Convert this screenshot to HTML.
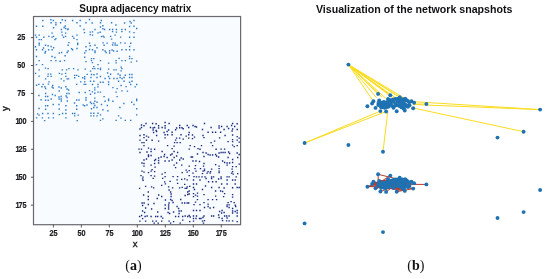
<!DOCTYPE html>
<html><head><meta charset="utf-8"><title>Figure</title>
<style>html,body{margin:0;padding:0;background:#fff;}body{width:550px;height:279px;position:relative;overflow:hidden}</style>
</head><body>
<svg width="550" height="279" viewBox="0 0 550 279" style="position:absolute;left:0;top:0">
<rect x="33.5" y="16.5" width="207.1" height="208.2" fill="#f8fbff"/>
<path fill="#2f7bc4" d="M42.1 19.8h1.4v1.4h-1.4zM50.2 19.0h1.4v1.4h-1.4zM52.7 19.8h1.4v1.4h-1.4zM61.6 19.0h1.4v1.4h-1.4zM64.7 19.8h1.4v1.4h-1.4zM71.9 19.8h1.4v1.4h-1.4zM79.5 19.8h1.4v1.4h-1.4zM50.4 22.1h1.4v1.4h-1.4zM55.2 22.1h1.4v1.4h-1.4zM59.9 22.1h1.4v1.4h-1.4zM76.3 22.1h1.4v1.4h-1.4zM85.3 22.1h1.4v1.4h-1.4zM55.2 24.1h1.4v1.4h-1.4zM35.8 25.6h1.4v1.4h-1.4zM42.1 25.6h1.4v1.4h-1.4zM52.9 27.1h1.4v1.4h-1.4zM64.6 25.3h1.4v1.4h-1.4zM63.4 26.8h1.4v1.4h-1.4zM64.9 27.8h1.4v1.4h-1.4zM67.4 28.3h1.4v1.4h-1.4zM79.5 25.3h1.4v1.4h-1.4zM60.7 28.8h1.4v1.4h-1.4zM66.9 28.8h1.4v1.4h-1.4zM83.3 28.8h1.4v1.4h-1.4zM61.2 31.4h1.4v1.4h-1.4zM51.4 32.4h1.4v1.4h-1.4zM64.9 32.4h1.4v1.4h-1.4zM83.8 31.9h1.4v1.4h-1.4zM34.8 34.4h1.4v1.4h-1.4zM38.5 34.4h1.4v1.4h-1.4zM61.6 34.4h1.4v1.4h-1.4zM76.3 34.4h1.4v1.4h-1.4zM35.8 36.6h1.4v1.4h-1.4zM43.1 36.6h1.4v1.4h-1.4zM48.2 35.7h1.4v1.4h-1.4zM51.4 36.4h1.4v1.4h-1.4zM52.9 35.7h1.4v1.4h-1.4zM62.9 36.6h1.4v1.4h-1.4zM64.9 35.7h1.4v1.4h-1.4zM71.9 35.7h1.4v1.4h-1.4zM73.2 37.6h1.4v1.4h-1.4zM38.5 38.9h1.4v1.4h-1.4zM40.6 38.9h1.4v1.4h-1.4zM54.2 38.9h1.4v1.4h-1.4zM55.2 37.9h1.4v1.4h-1.4zM76.3 38.9h1.4v1.4h-1.4zM38.5 42.6h1.4v1.4h-1.4zM68.2 41.9h1.4v1.4h-1.4zM77.0 42.6h1.4v1.4h-1.4zM88.8 18.8h1.4v1.4h-1.4zM100.6 19.8h1.4v1.4h-1.4zM133.3 19.8h1.4v1.4h-1.4zM129.3 20.8h1.4v1.4h-1.4zM130.5 22.3h1.4v1.4h-1.4zM91.5 22.3h1.4v1.4h-1.4zM99.8 22.1h1.4v1.4h-1.4zM110.9 22.1h1.4v1.4h-1.4zM123.9 22.3h1.4v1.4h-1.4zM115.2 24.3h1.4v1.4h-1.4zM102.2 25.1h1.4v1.4h-1.4zM99.8 26.3h1.4v1.4h-1.4zM128.9 25.8h1.4v1.4h-1.4zM133.3 25.6h1.4v1.4h-1.4zM136.0 27.8h1.4v1.4h-1.4zM102.2 28.1h1.4v1.4h-1.4zM103.9 28.8h1.4v1.4h-1.4zM94.3 28.8h1.4v1.4h-1.4zM108.9 28.8h1.4v1.4h-1.4zM111.9 28.8h1.4v1.4h-1.4zM115.7 28.8h1.4v1.4h-1.4zM121.2 28.8h1.4v1.4h-1.4zM124.6 28.8h1.4v1.4h-1.4zM111.9 30.9h1.4v1.4h-1.4zM115.7 31.4h1.4v1.4h-1.4zM121.2 30.9h1.4v1.4h-1.4zM128.9 31.2h1.4v1.4h-1.4zM133.3 31.9h1.4v1.4h-1.4zM89.5 31.4h1.4v1.4h-1.4zM91.8 31.2h1.4v1.4h-1.4zM97.3 32.2h1.4v1.4h-1.4zM99.5 31.6h1.4v1.4h-1.4zM89.5 33.9h1.4v1.4h-1.4zM91.8 34.4h1.4v1.4h-1.4zM114.4 34.4h1.4v1.4h-1.4zM100.8 35.9h1.4v1.4h-1.4zM102.4 35.4h1.4v1.4h-1.4zM103.4 36.4h1.4v1.4h-1.4zM109.9 35.7h1.4v1.4h-1.4zM119.9 36.4h1.4v1.4h-1.4zM128.9 36.6h1.4v1.4h-1.4zM133.3 36.6h1.4v1.4h-1.4zM110.9 38.4h1.4v1.4h-1.4zM102.4 42.2h1.4v1.4h-1.4zM106.4 42.4h1.4v1.4h-1.4zM112.4 42.2h1.4v1.4h-1.4zM114.4 42.4h1.4v1.4h-1.4zM119.9 42.2h1.4v1.4h-1.4zM124.4 42.4h1.4v1.4h-1.4zM130.0 42.6h1.4v1.4h-1.4zM88.8 42.6h1.4v1.4h-1.4zM38.5 44.3h1.4v1.4h-1.4zM44.8 44.5h1.4v1.4h-1.4zM47.4 45.1h1.4v1.4h-1.4zM50.4 45.8h1.4v1.4h-1.4zM52.9 47.1h1.4v1.4h-1.4zM67.4 44.5h1.4v1.4h-1.4zM77.0 43.8h1.4v1.4h-1.4zM85.3 46.1h1.4v1.4h-1.4zM34.8 46.1h1.4v1.4h-1.4zM35.8 49.1h1.4v1.4h-1.4zM42.8 47.3h1.4v1.4h-1.4zM41.8 49.1h1.4v1.4h-1.4zM44.8 50.8h1.4v1.4h-1.4zM44.3 52.3h1.4v1.4h-1.4zM47.9 49.1h1.4v1.4h-1.4zM51.4 49.1h1.4v1.4h-1.4zM70.9 48.1h1.4v1.4h-1.4zM71.9 49.1h1.4v1.4h-1.4zM76.3 47.8h1.4v1.4h-1.4zM67.4 50.3h1.4v1.4h-1.4zM66.4 51.8h1.4v1.4h-1.4zM60.9 51.8h1.4v1.4h-1.4zM58.6 52.3h1.4v1.4h-1.4zM85.3 50.1h1.4v1.4h-1.4zM84.0 52.3h1.4v1.4h-1.4zM64.4 55.1h1.4v1.4h-1.4zM35.8 55.8h1.4v1.4h-1.4zM51.4 55.8h1.4v1.4h-1.4zM54.2 56.8h1.4v1.4h-1.4zM84.0 56.5h1.4v1.4h-1.4zM38.5 59.9h1.4v1.4h-1.4zM50.4 59.9h1.4v1.4h-1.4zM55.2 59.9h1.4v1.4h-1.4zM59.4 60.6h1.4v1.4h-1.4zM63.9 59.9h1.4v1.4h-1.4zM85.3 60.9h1.4v1.4h-1.4zM35.8 63.9h1.4v1.4h-1.4zM41.8 63.9h1.4v1.4h-1.4zM44.8 67.4h1.4v1.4h-1.4zM47.4 67.9h1.4v1.4h-1.4zM38.5 69.2h1.4v1.4h-1.4zM61.6 69.2h1.4v1.4h-1.4zM65.9 69.2h1.4v1.4h-1.4zM68.2 67.9h1.4v1.4h-1.4zM72.9 67.9h1.4v1.4h-1.4zM77.3 69.2h1.4v1.4h-1.4zM84.5 68.4h1.4v1.4h-1.4zM89.5 45.1h1.4v1.4h-1.4zM94.3 44.5h1.4v1.4h-1.4zM103.4 44.5h1.4v1.4h-1.4zM111.9 44.3h1.4v1.4h-1.4zM114.4 44.3h1.4v1.4h-1.4zM116.4 44.5h1.4v1.4h-1.4zM128.9 45.8h1.4v1.4h-1.4zM96.3 47.1h1.4v1.4h-1.4zM88.8 48.8h1.4v1.4h-1.4zM91.8 49.1h1.4v1.4h-1.4zM94.3 50.3h1.4v1.4h-1.4zM94.3 51.8h1.4v1.4h-1.4zM102.2 49.1h1.4v1.4h-1.4zM104.4 50.3h1.4v1.4h-1.4zM105.4 51.8h1.4v1.4h-1.4zM108.9 50.1h1.4v1.4h-1.4zM108.9 52.3h1.4v1.4h-1.4zM111.4 49.3h1.4v1.4h-1.4zM112.9 50.3h1.4v1.4h-1.4zM116.4 50.5h1.4v1.4h-1.4zM121.2 49.1h1.4v1.4h-1.4zM125.4 49.1h1.4v1.4h-1.4zM128.9 49.1h1.4v1.4h-1.4zM133.3 49.1h1.4v1.4h-1.4zM90.8 57.9h1.4v1.4h-1.4zM93.1 57.9h1.4v1.4h-1.4zM118.4 57.7h1.4v1.4h-1.4zM128.9 55.8h1.4v1.4h-1.4zM128.9 57.9h1.4v1.4h-1.4zM131.3 57.9h1.4v1.4h-1.4zM90.8 59.9h1.4v1.4h-1.4zM99.8 59.9h1.4v1.4h-1.4zM115.4 59.9h1.4v1.4h-1.4zM121.2 59.9h1.4v1.4h-1.4zM124.6 59.9h1.4v1.4h-1.4zM136.0 60.4h1.4v1.4h-1.4zM130.5 61.4h1.4v1.4h-1.4zM91.8 61.9h1.4v1.4h-1.4zM107.9 62.4h1.4v1.4h-1.4zM115.4 62.2h1.4v1.4h-1.4zM97.3 63.9h1.4v1.4h-1.4zM93.1 65.9h1.4v1.4h-1.4zM92.1 67.9h1.4v1.4h-1.4zM94.1 67.9h1.4v1.4h-1.4zM97.3 67.9h1.4v1.4h-1.4zM99.8 67.4h1.4v1.4h-1.4zM99.8 68.9h1.4v1.4h-1.4zM107.9 68.4h1.4v1.4h-1.4zM113.2 69.2h1.4v1.4h-1.4zM115.4 69.2h1.4v1.4h-1.4zM120.4 66.4h1.4v1.4h-1.4zM121.2 67.9h1.4v1.4h-1.4zM120.4 70.2h1.4v1.4h-1.4zM89.8 70.4h1.4v1.4h-1.4zM90.8 73.8h1.4v1.4h-1.4zM93.3 74.1h1.4v1.4h-1.4zM96.3 73.3h1.4v1.4h-1.4zM106.9 72.3h1.4v1.4h-1.4zM109.9 73.5h1.4v1.4h-1.4zM117.4 73.3h1.4v1.4h-1.4zM119.4 74.5h1.4v1.4h-1.4zM124.6 74.5h1.4v1.4h-1.4zM128.9 73.8h1.4v1.4h-1.4zM131.3 73.8h1.4v1.4h-1.4zM90.3 76.8h1.4v1.4h-1.4zM96.3 76.8h1.4v1.4h-1.4zM99.8 75.8h1.4v1.4h-1.4zM107.9 75.8h1.4v1.4h-1.4zM104.4 77.8h1.4v1.4h-1.4zM108.9 77.8h1.4v1.4h-1.4zM113.2 77.8h1.4v1.4h-1.4zM116.4 77.8h1.4v1.4h-1.4zM119.4 76.8h1.4v1.4h-1.4zM121.4 77.8h1.4v1.4h-1.4zM123.4 76.8h1.4v1.4h-1.4zM128.9 76.8h1.4v1.4h-1.4zM131.3 76.8h1.4v1.4h-1.4zM89.8 80.5h1.4v1.4h-1.4zM93.1 80.5h1.4v1.4h-1.4zM99.8 81.5h1.4v1.4h-1.4zM102.4 81.5h1.4v1.4h-1.4zM107.9 81.3h1.4v1.4h-1.4zM107.9 83.8h1.4v1.4h-1.4zM117.9 80.5h1.4v1.4h-1.4zM123.4 80.5h1.4v1.4h-1.4zM128.9 81.5h1.4v1.4h-1.4zM131.3 80.5h1.4v1.4h-1.4zM91.8 83.8h1.4v1.4h-1.4zM97.3 83.8h1.4v1.4h-1.4zM97.3 86.2h1.4v1.4h-1.4zM120.4 84.8h1.4v1.4h-1.4zM125.4 85.9h1.4v1.4h-1.4zM130.0 83.8h1.4v1.4h-1.4zM136.0 83.8h1.4v1.4h-1.4zM134.5 86.2h1.4v1.4h-1.4zM112.2 86.9h1.4v1.4h-1.4zM116.4 87.9h1.4v1.4h-1.4zM94.1 87.2h1.4v1.4h-1.4zM94.1 89.2h1.4v1.4h-1.4zM88.8 89.9h1.4v1.4h-1.4zM91.8 91.2h1.4v1.4h-1.4zM94.1 92.6h1.4v1.4h-1.4zM97.3 91.4h1.4v1.4h-1.4zM99.8 91.4h1.4v1.4h-1.4zM115.4 91.4h1.4v1.4h-1.4zM121.2 90.2h1.4v1.4h-1.4zM126.7 90.4h1.4v1.4h-1.4zM89.8 93.6h1.4v1.4h-1.4zM103.4 95.9h1.4v1.4h-1.4zM116.4 95.9h1.4v1.4h-1.4zM94.1 97.4h1.4v1.4h-1.4zM107.9 98.6h1.4v1.4h-1.4zM136.0 98.6h1.4v1.4h-1.4zM89.8 101.5h1.4v1.4h-1.4zM90.8 102.8h1.4v1.4h-1.4zM94.1 100.5h1.4v1.4h-1.4zM93.1 102.8h1.4v1.4h-1.4zM96.3 101.5h1.4v1.4h-1.4zM94.1 104.8h1.4v1.4h-1.4zM104.4 100.5h1.4v1.4h-1.4zM107.9 99.8h1.4v1.4h-1.4zM112.2 100.5h1.4v1.4h-1.4zM100.8 103.8h1.4v1.4h-1.4zM106.7 104.8h1.4v1.4h-1.4zM123.2 102.8h1.4v1.4h-1.4zM131.0 101.5h1.4v1.4h-1.4zM133.3 103.8h1.4v1.4h-1.4zM136.0 99.8h1.4v1.4h-1.4zM90.8 108.1h1.4v1.4h-1.4zM93.1 106.8h1.4v1.4h-1.4zM96.3 106.8h1.4v1.4h-1.4zM119.2 106.8h1.4v1.4h-1.4zM136.0 108.1h1.4v1.4h-1.4zM102.2 109.1h1.4v1.4h-1.4zM107.2 110.1h1.4v1.4h-1.4zM90.3 112.5h1.4v1.4h-1.4zM93.1 112.5h1.4v1.4h-1.4zM97.3 112.5h1.4v1.4h-1.4zM90.3 115.2h1.4v1.4h-1.4zM93.1 115.2h1.4v1.4h-1.4zM96.3 115.2h1.4v1.4h-1.4zM99.8 114.2h1.4v1.4h-1.4zM136.0 114.2h1.4v1.4h-1.4zM117.9 115.2h1.4v1.4h-1.4zM120.2 117.4h1.4v1.4h-1.4zM102.2 118.2h1.4v1.4h-1.4zM99.8 119.7h1.4v1.4h-1.4zM115.4 119.7h1.4v1.4h-1.4zM124.6 119.7h1.4v1.4h-1.4zM130.0 119.7h1.4v1.4h-1.4zM34.9 72.7h1.4v1.4h-1.4zM35.9 84.5h1.4v1.4h-1.4zM35.9 117.2h1.4v1.4h-1.4zM36.9 113.2h1.4v1.4h-1.4zM38.4 114.4h1.4v1.4h-1.4zM38.4 75.4h1.4v1.4h-1.4zM38.2 83.7h1.4v1.4h-1.4zM38.2 94.8h1.4v1.4h-1.4zM38.4 107.8h1.4v1.4h-1.4zM40.4 99.1h1.4v1.4h-1.4zM41.2 86.1h1.4v1.4h-1.4zM42.4 83.7h1.4v1.4h-1.4zM41.9 112.8h1.4v1.4h-1.4zM41.7 117.2h1.4v1.4h-1.4zM43.9 119.9h1.4v1.4h-1.4zM44.2 86.1h1.4v1.4h-1.4zM44.9 87.8h1.4v1.4h-1.4zM44.9 78.2h1.4v1.4h-1.4zM44.9 92.8h1.4v1.4h-1.4zM44.9 95.8h1.4v1.4h-1.4zM44.9 99.6h1.4v1.4h-1.4zM44.9 105.1h1.4v1.4h-1.4zM44.9 108.5h1.4v1.4h-1.4zM47.0 95.8h1.4v1.4h-1.4zM47.5 99.6h1.4v1.4h-1.4zM47.0 105.1h1.4v1.4h-1.4zM47.3 112.8h1.4v1.4h-1.4zM48.0 117.2h1.4v1.4h-1.4zM47.5 73.4h1.4v1.4h-1.4zM47.3 75.7h1.4v1.4h-1.4zM48.3 81.2h1.4v1.4h-1.4zM47.7 83.4h1.4v1.4h-1.4zM50.0 73.4h1.4v1.4h-1.4zM50.5 75.7h1.4v1.4h-1.4zM50.5 98.3h1.4v1.4h-1.4zM52.0 84.7h1.4v1.4h-1.4zM51.5 86.3h1.4v1.4h-1.4zM52.5 87.3h1.4v1.4h-1.4zM51.8 93.8h1.4v1.4h-1.4zM52.5 103.8h1.4v1.4h-1.4zM52.7 112.8h1.4v1.4h-1.4zM52.7 117.2h1.4v1.4h-1.4zM54.5 94.8h1.4v1.4h-1.4zM58.3 86.3h1.4v1.4h-1.4zM58.5 90.3h1.4v1.4h-1.4zM58.3 96.3h1.4v1.4h-1.4zM58.5 98.3h1.4v1.4h-1.4zM58.3 103.8h1.4v1.4h-1.4zM58.5 108.3h1.4v1.4h-1.4zM58.7 113.9h1.4v1.4h-1.4zM58.7 72.7h1.4v1.4h-1.4zM61.2 73.4h1.4v1.4h-1.4zM60.6 78.2h1.4v1.4h-1.4zM60.6 87.3h1.4v1.4h-1.4zM60.4 95.8h1.4v1.4h-1.4zM60.4 98.3h1.4v1.4h-1.4zM60.6 100.3h1.4v1.4h-1.4zM61.9 112.8h1.4v1.4h-1.4zM63.2 80.2h1.4v1.4h-1.4zM64.9 72.7h1.4v1.4h-1.4zM65.2 75.7h1.4v1.4h-1.4zM66.4 78.2h1.4v1.4h-1.4zM67.9 78.2h1.4v1.4h-1.4zM65.2 86.1h1.4v1.4h-1.4zM66.4 88.3h1.4v1.4h-1.4zM67.9 89.3h1.4v1.4h-1.4zM66.2 92.8h1.4v1.4h-1.4zM68.4 92.8h1.4v1.4h-1.4zM65.4 95.3h1.4v1.4h-1.4zM66.4 96.8h1.4v1.4h-1.4zM66.6 100.3h1.4v1.4h-1.4zM65.2 105.1h1.4v1.4h-1.4zM65.2 109.3h1.4v1.4h-1.4zM65.2 112.8h1.4v1.4h-1.4zM65.2 117.2h1.4v1.4h-1.4zM74.0 74.7h1.4v1.4h-1.4zM74.0 77.0h1.4v1.4h-1.4zM73.8 102.3h1.4v1.4h-1.4zM71.9 112.8h1.4v1.4h-1.4zM74.0 112.8h1.4v1.4h-1.4zM74.0 115.2h1.4v1.4h-1.4zM76.0 74.7h1.4v1.4h-1.4zM76.0 83.7h1.4v1.4h-1.4zM76.0 99.3h1.4v1.4h-1.4zM76.0 105.1h1.4v1.4h-1.4zM76.0 108.5h1.4v1.4h-1.4zM76.5 119.9h1.4v1.4h-1.4zM77.5 114.4h1.4v1.4h-1.4zM78.0 75.7h1.4v1.4h-1.4zM78.5 91.8h1.4v1.4h-1.4zM78.3 99.3h1.4v1.4h-1.4zM80.0 81.2h1.4v1.4h-1.4zM82.0 77.0h1.4v1.4h-1.4zM84.0 76.0h1.4v1.4h-1.4zM84.0 78.0h1.4v1.4h-1.4zM84.0 81.2h1.4v1.4h-1.4zM83.5 83.7h1.4v1.4h-1.4zM85.0 83.7h1.4v1.4h-1.4zM84.5 91.8h1.4v1.4h-1.4zM85.3 97.1h1.4v1.4h-1.4zM85.3 99.3h1.4v1.4h-1.4zM82.5 104.3h1.4v1.4h-1.4zM84.0 105.1h1.4v1.4h-1.4zM86.3 104.3h1.4v1.4h-1.4zM86.5 73.7h1.4v1.4h-1.4z"/>
<path fill="#16287c" d="M145.3 122.8h1.4v1.4h-1.4zM151.9 122.8h1.4v1.4h-1.4zM155.4 123.1h1.4v1.4h-1.4zM168.4 122.8h1.4v1.4h-1.4zM164.4 121.8h1.4v1.4h-1.4zM140.8 124.3h1.4v1.4h-1.4zM143.3 125.1h1.4v1.4h-1.4zM139.3 128.3h1.4v1.4h-1.4zM140.8 126.8h1.4v1.4h-1.4zM149.8 126.8h1.4v1.4h-1.4zM152.4 127.3h1.4v1.4h-1.4zM153.9 126.8h1.4v1.4h-1.4zM157.9 125.1h1.4v1.4h-1.4zM157.9 127.3h1.4v1.4h-1.4zM161.4 126.8h1.4v1.4h-1.4zM164.4 125.1h1.4v1.4h-1.4zM164.4 127.3h1.4v1.4h-1.4zM179.0 124.8h1.4v1.4h-1.4zM179.0 127.1h1.4v1.4h-1.4zM181.3 127.1h1.4v1.4h-1.4zM182.5 128.1h1.4v1.4h-1.4zM186.5 124.8h1.4v1.4h-1.4zM188.0 126.8h1.4v1.4h-1.4zM175.9 127.3h1.4v1.4h-1.4zM174.9 129.1h1.4v1.4h-1.4zM152.4 129.3h1.4v1.4h-1.4zM155.4 129.8h1.4v1.4h-1.4zM152.9 131.8h1.4v1.4h-1.4zM155.9 130.8h1.4v1.4h-1.4zM167.9 129.3h1.4v1.4h-1.4zM166.4 130.8h1.4v1.4h-1.4zM163.4 131.8h1.4v1.4h-1.4zM171.4 131.5h1.4v1.4h-1.4zM188.5 131.8h1.4v1.4h-1.4zM164.4 134.1h1.4v1.4h-1.4zM166.9 134.1h1.4v1.4h-1.4zM171.4 134.1h1.4v1.4h-1.4zM180.3 134.1h1.4v1.4h-1.4zM188.0 134.1h1.4v1.4h-1.4zM185.5 135.4h1.4v1.4h-1.4zM139.3 134.8h1.4v1.4h-1.4zM143.3 134.1h1.4v1.4h-1.4zM145.8 135.4h1.4v1.4h-1.4zM143.3 136.9h1.4v1.4h-1.4zM147.8 136.4h1.4v1.4h-1.4zM155.9 134.8h1.4v1.4h-1.4zM164.4 137.2h1.4v1.4h-1.4zM175.9 137.4h1.4v1.4h-1.4zM174.9 139.4h1.4v1.4h-1.4zM179.0 137.4h1.4v1.4h-1.4zM182.5 138.4h1.4v1.4h-1.4zM188.0 137.4h1.4v1.4h-1.4zM139.3 139.4h1.4v1.4h-1.4zM145.8 139.6h1.4v1.4h-1.4zM151.4 139.6h1.4v1.4h-1.4zM157.9 140.4h1.4v1.4h-1.4zM141.3 141.9h1.4v1.4h-1.4zM143.3 141.9h1.4v1.4h-1.4zM173.9 141.9h1.4v1.4h-1.4zM176.4 141.9h1.4v1.4h-1.4zM179.5 141.9h1.4v1.4h-1.4zM143.3 144.9h1.4v1.4h-1.4zM166.9 144.9h1.4v1.4h-1.4zM173.4 145.4h1.4v1.4h-1.4zM171.4 147.9h1.4v1.4h-1.4zM189.5 144.9h1.4v1.4h-1.4zM138.3 148.4h1.4v1.4h-1.4zM140.8 148.4h1.4v1.4h-1.4zM147.8 147.4h1.4v1.4h-1.4zM150.4 148.4h1.4v1.4h-1.4zM153.9 148.6h1.4v1.4h-1.4zM188.5 148.4h1.4v1.4h-1.4zM203.8 122.8h1.4v1.4h-1.4zM231.9 122.8h1.4v1.4h-1.4zM236.5 123.1h1.4v1.4h-1.4zM192.3 124.8h1.4v1.4h-1.4zM194.3 125.8h1.4v1.4h-1.4zM195.8 126.3h1.4v1.4h-1.4zM210.4 126.8h1.4v1.4h-1.4zM218.4 125.3h1.4v1.4h-1.4zM218.4 127.3h1.4v1.4h-1.4zM220.9 125.8h1.4v1.4h-1.4zM223.4 128.8h1.4v1.4h-1.4zM226.4 125.8h1.4v1.4h-1.4zM227.9 127.8h1.4v1.4h-1.4zM230.9 124.8h1.4v1.4h-1.4zM234.0 125.8h1.4v1.4h-1.4zM231.9 128.3h1.4v1.4h-1.4zM231.4 130.3h1.4v1.4h-1.4zM236.5 128.8h1.4v1.4h-1.4zM201.8 128.8h1.4v1.4h-1.4zM207.4 131.5h1.4v1.4h-1.4zM211.9 131.5h1.4v1.4h-1.4zM214.9 131.5h1.4v1.4h-1.4zM219.9 131.5h1.4v1.4h-1.4zM191.8 134.3h1.4v1.4h-1.4zM193.8 136.4h1.4v1.4h-1.4zM191.8 137.9h1.4v1.4h-1.4zM202.3 134.8h1.4v1.4h-1.4zM203.3 136.9h1.4v1.4h-1.4zM224.4 134.8h1.4v1.4h-1.4zM218.9 137.2h1.4v1.4h-1.4zM231.9 134.3h1.4v1.4h-1.4zM236.5 135.9h1.4v1.4h-1.4zM238.5 137.4h1.4v1.4h-1.4zM231.9 138.9h1.4v1.4h-1.4zM231.9 140.9h1.4v1.4h-1.4zM236.5 139.4h1.4v1.4h-1.4zM238.5 141.4h1.4v1.4h-1.4zM227.4 140.9h1.4v1.4h-1.4zM213.9 140.4h1.4v1.4h-1.4zM210.4 141.9h1.4v1.4h-1.4zM211.9 144.9h1.4v1.4h-1.4zM200.8 144.9h1.4v1.4h-1.4zM193.8 145.9h1.4v1.4h-1.4zM197.3 147.9h1.4v1.4h-1.4zM199.3 148.6h1.4v1.4h-1.4zM231.9 144.4h1.4v1.4h-1.4zM233.5 145.9h1.4v1.4h-1.4zM236.5 144.9h1.4v1.4h-1.4zM215.4 148.6h1.4v1.4h-1.4zM220.4 148.4h1.4v1.4h-1.4zM223.9 148.4h1.4v1.4h-1.4zM139.3 151.8h1.4v1.4h-1.4zM146.3 151.3h1.4v1.4h-1.4zM150.4 150.8h1.4v1.4h-1.4zM161.4 150.8h1.4v1.4h-1.4zM173.4 150.8h1.4v1.4h-1.4zM176.9 151.8h1.4v1.4h-1.4zM147.8 154.3h1.4v1.4h-1.4zM147.8 155.8h1.4v1.4h-1.4zM150.4 154.8h1.4v1.4h-1.4zM163.9 153.8h1.4v1.4h-1.4zM163.4 155.8h1.4v1.4h-1.4zM166.4 156.8h1.4v1.4h-1.4zM169.9 154.3h1.4v1.4h-1.4zM171.4 153.3h1.4v1.4h-1.4zM175.9 155.3h1.4v1.4h-1.4zM173.4 156.8h1.4v1.4h-1.4zM180.5 157.3h1.4v1.4h-1.4zM182.5 158.3h1.4v1.4h-1.4zM190.5 156.3h1.4v1.4h-1.4zM160.4 156.3h1.4v1.4h-1.4zM157.9 157.3h1.4v1.4h-1.4zM154.9 158.8h1.4v1.4h-1.4zM153.9 159.8h1.4v1.4h-1.4zM145.8 158.3h1.4v1.4h-1.4zM143.3 159.3h1.4v1.4h-1.4zM157.9 159.8h1.4v1.4h-1.4zM164.4 160.3h1.4v1.4h-1.4zM168.4 160.3h1.4v1.4h-1.4zM171.4 159.3h1.4v1.4h-1.4zM179.0 159.3h1.4v1.4h-1.4zM141.3 162.3h1.4v1.4h-1.4zM143.3 162.8h1.4v1.4h-1.4zM153.9 162.8h1.4v1.4h-1.4zM157.9 162.3h1.4v1.4h-1.4zM175.9 162.3h1.4v1.4h-1.4zM173.4 164.4h1.4v1.4h-1.4zM181.0 164.4h1.4v1.4h-1.4zM188.5 165.4h1.4v1.4h-1.4zM150.4 164.4h1.4v1.4h-1.4zM143.3 165.4h1.4v1.4h-1.4zM154.4 166.4h1.4v1.4h-1.4zM174.9 166.9h1.4v1.4h-1.4zM151.4 168.9h1.4v1.4h-1.4zM150.4 170.4h1.4v1.4h-1.4zM141.3 170.4h1.4v1.4h-1.4zM143.3 171.4h1.4v1.4h-1.4zM153.9 170.9h1.4v1.4h-1.4zM147.8 171.9h1.4v1.4h-1.4zM164.4 171.9h1.4v1.4h-1.4zM161.4 173.4h1.4v1.4h-1.4zM185.5 169.4h1.4v1.4h-1.4zM188.5 169.9h1.4v1.4h-1.4zM186.5 171.4h1.4v1.4h-1.4zM181.5 171.9h1.4v1.4h-1.4zM188.5 174.9h1.4v1.4h-1.4zM140.3 174.9h1.4v1.4h-1.4zM142.3 176.4h1.4v1.4h-1.4zM150.4 174.9h1.4v1.4h-1.4zM153.9 175.4h1.4v1.4h-1.4zM164.4 175.9h1.4v1.4h-1.4zM172.4 175.9h1.4v1.4h-1.4zM176.9 175.9h1.4v1.4h-1.4zM196.8 153.3h1.4v1.4h-1.4zM202.3 151.8h1.4v1.4h-1.4zM205.4 152.3h1.4v1.4h-1.4zM207.4 153.8h1.4v1.4h-1.4zM209.4 154.3h1.4v1.4h-1.4zM211.9 154.3h1.4v1.4h-1.4zM214.9 153.8h1.4v1.4h-1.4zM215.9 155.3h1.4v1.4h-1.4zM218.4 152.3h1.4v1.4h-1.4zM220.4 151.8h1.4v1.4h-1.4zM222.4 151.8h1.4v1.4h-1.4zM224.4 151.8h1.4v1.4h-1.4zM227.9 151.3h1.4v1.4h-1.4zM228.9 152.8h1.4v1.4h-1.4zM236.5 152.3h1.4v1.4h-1.4zM238.5 153.8h1.4v1.4h-1.4zM203.3 155.8h1.4v1.4h-1.4zM217.9 156.3h1.4v1.4h-1.4zM227.4 156.8h1.4v1.4h-1.4zM237.0 156.8h1.4v1.4h-1.4zM231.9 158.8h1.4v1.4h-1.4zM191.8 156.3h1.4v1.4h-1.4zM192.3 160.3h1.4v1.4h-1.4zM195.3 160.3h1.4v1.4h-1.4zM198.8 160.8h1.4v1.4h-1.4zM221.9 160.3h1.4v1.4h-1.4zM223.9 161.8h1.4v1.4h-1.4zM226.4 162.3h1.4v1.4h-1.4zM228.9 162.3h1.4v1.4h-1.4zM231.9 161.8h1.4v1.4h-1.4zM238.5 163.4h1.4v1.4h-1.4zM203.3 162.8h1.4v1.4h-1.4zM214.9 163.9h1.4v1.4h-1.4zM226.4 164.4h1.4v1.4h-1.4zM194.8 164.9h1.4v1.4h-1.4zM202.8 165.4h1.4v1.4h-1.4zM218.4 165.4h1.4v1.4h-1.4zM231.9 165.9h1.4v1.4h-1.4zM235.5 165.9h1.4v1.4h-1.4zM194.3 167.9h1.4v1.4h-1.4zM199.8 167.9h1.4v1.4h-1.4zM203.8 168.4h1.4v1.4h-1.4zM210.9 168.4h1.4v1.4h-1.4zM218.4 167.9h1.4v1.4h-1.4zM231.4 168.4h1.4v1.4h-1.4zM195.3 170.4h1.4v1.4h-1.4zM202.3 170.4h1.4v1.4h-1.4zM203.8 169.9h1.4v1.4h-1.4zM207.4 170.9h1.4v1.4h-1.4zM209.9 170.9h1.4v1.4h-1.4zM218.4 170.4h1.4v1.4h-1.4zM231.9 170.9h1.4v1.4h-1.4zM192.3 172.4h1.4v1.4h-1.4zM201.8 172.9h1.4v1.4h-1.4zM206.4 172.4h1.4v1.4h-1.4zM209.4 172.4h1.4v1.4h-1.4zM218.4 171.9h1.4v1.4h-1.4zM230.9 172.4h1.4v1.4h-1.4zM232.4 173.4h1.4v1.4h-1.4zM237.0 172.9h1.4v1.4h-1.4zM193.3 175.9h1.4v1.4h-1.4zM195.8 176.2h1.4v1.4h-1.4zM198.3 176.2h1.4v1.4h-1.4zM201.3 176.2h1.4v1.4h-1.4zM204.3 176.2h1.4v1.4h-1.4zM210.9 176.2h1.4v1.4h-1.4zM212.9 176.2h1.4v1.4h-1.4zM220.4 176.2h1.4v1.4h-1.4zM226.4 176.2h1.4v1.4h-1.4zM228.4 176.2h1.4v1.4h-1.4zM235.5 176.2h1.4v1.4h-1.4zM192.8 179.3h1.4v1.4h-1.4zM199.3 179.3h1.4v1.4h-1.4zM205.4 177.8h1.4v1.4h-1.4zM210.9 177.8h1.4v1.4h-1.4zM217.9 178.3h1.4v1.4h-1.4zM220.4 177.8h1.4v1.4h-1.4zM226.4 179.3h1.4v1.4h-1.4zM231.9 179.3h1.4v1.4h-1.4zM234.5 179.3h1.4v1.4h-1.4zM207.9 181.1h1.4v1.4h-1.4zM211.9 181.1h1.4v1.4h-1.4zM215.4 181.1h1.4v1.4h-1.4zM192.8 183.3h1.4v1.4h-1.4zM195.8 183.3h1.4v1.4h-1.4zM220.9 183.3h1.4v1.4h-1.4zM226.4 183.3h1.4v1.4h-1.4zM234.5 183.3h1.4v1.4h-1.4zM204.8 185.3h1.4v1.4h-1.4zM192.8 186.8h1.4v1.4h-1.4zM210.9 186.8h1.4v1.4h-1.4zM218.4 186.8h1.4v1.4h-1.4zM223.4 187.3h1.4v1.4h-1.4zM231.9 187.1h1.4v1.4h-1.4zM236.5 186.8h1.4v1.4h-1.4zM238.5 186.8h1.4v1.4h-1.4zM193.8 188.8h1.4v1.4h-1.4zM201.8 188.8h1.4v1.4h-1.4zM214.9 190.3h1.4v1.4h-1.4zM219.9 190.3h1.4v1.4h-1.4zM221.9 190.8h1.4v1.4h-1.4zM192.8 192.9h1.4v1.4h-1.4zM196.8 192.4h1.4v1.4h-1.4zM194.8 194.4h1.4v1.4h-1.4zM203.3 193.9h1.4v1.4h-1.4zM223.9 192.9h1.4v1.4h-1.4zM231.9 193.9h1.4v1.4h-1.4zM192.8 195.9h1.4v1.4h-1.4zM196.8 195.4h1.4v1.4h-1.4zM214.9 195.4h1.4v1.4h-1.4zM222.9 195.9h1.4v1.4h-1.4zM231.9 196.4h1.4v1.4h-1.4zM196.8 198.9h1.4v1.4h-1.4zM207.4 198.9h1.4v1.4h-1.4zM211.9 198.9h1.4v1.4h-1.4zM215.9 198.9h1.4v1.4h-1.4zM194.8 201.4h1.4v1.4h-1.4zM203.3 201.9h1.4v1.4h-1.4zM207.4 203.4h1.4v1.4h-1.4zM227.4 201.9h1.4v1.4h-1.4zM230.4 200.9h1.4v1.4h-1.4zM233.5 201.9h1.4v1.4h-1.4zM193.3 203.9h1.4v1.4h-1.4zM199.3 203.9h1.4v1.4h-1.4zM226.4 204.2h1.4v1.4h-1.4zM228.4 204.2h1.4v1.4h-1.4zM234.5 204.4h1.4v1.4h-1.4zM207.4 205.8h1.4v1.4h-1.4zM203.8 206.8h1.4v1.4h-1.4zM209.4 207.3h1.4v1.4h-1.4zM212.9 206.8h1.4v1.4h-1.4zM226.4 205.8h1.4v1.4h-1.4zM228.4 206.8h1.4v1.4h-1.4zM235.0 205.8h1.4v1.4h-1.4zM231.9 207.8h1.4v1.4h-1.4zM192.8 209.8h1.4v1.4h-1.4zM195.8 209.8h1.4v1.4h-1.4zM199.3 209.8h1.4v1.4h-1.4zM221.4 209.8h1.4v1.4h-1.4zM218.9 210.8h1.4v1.4h-1.4zM220.9 212.3h1.4v1.4h-1.4zM223.4 211.8h1.4v1.4h-1.4zM231.9 210.3h1.4v1.4h-1.4zM231.9 212.3h1.4v1.4h-1.4zM234.5 210.8h1.4v1.4h-1.4zM236.5 209.8h1.4v1.4h-1.4zM236.5 212.3h1.4v1.4h-1.4zM217.9 214.3h1.4v1.4h-1.4zM192.8 215.3h1.4v1.4h-1.4zM195.8 215.3h1.4v1.4h-1.4zM203.3 215.3h1.4v1.4h-1.4zM202.3 216.8h1.4v1.4h-1.4zM210.9 215.3h1.4v1.4h-1.4zM212.9 215.3h1.4v1.4h-1.4zM223.9 215.3h1.4v1.4h-1.4zM225.9 215.3h1.4v1.4h-1.4zM228.4 215.3h1.4v1.4h-1.4zM236.5 215.3h1.4v1.4h-1.4zM192.8 217.8h1.4v1.4h-1.4zM195.3 217.8h1.4v1.4h-1.4zM198.8 217.8h1.4v1.4h-1.4zM200.3 217.8h1.4v1.4h-1.4zM218.4 216.8h1.4v1.4h-1.4zM221.4 217.8h1.4v1.4h-1.4zM226.4 217.3h1.4v1.4h-1.4zM192.8 220.4h1.4v1.4h-1.4zM201.8 220.4h1.4v1.4h-1.4zM203.8 219.9h1.4v1.4h-1.4zM221.9 219.9h1.4v1.4h-1.4zM225.9 220.2h1.4v1.4h-1.4zM228.4 220.2h1.4v1.4h-1.4zM231.9 220.2h1.4v1.4h-1.4zM236.5 220.9h1.4v1.4h-1.4zM202.8 222.4h1.4v1.4h-1.4zM138.9 187.7h1.4v1.4h-1.4zM138.9 215.8h1.4v1.4h-1.4zM139.2 220.4h1.4v1.4h-1.4zM141.9 178.2h1.4v1.4h-1.4zM142.4 179.7h1.4v1.4h-1.4zM142.9 194.3h1.4v1.4h-1.4zM141.4 202.3h1.4v1.4h-1.4zM143.4 202.3h1.4v1.4h-1.4zM141.9 204.8h1.4v1.4h-1.4zM144.9 207.3h1.4v1.4h-1.4zM141.9 210.3h1.4v1.4h-1.4zM143.9 211.8h1.4v1.4h-1.4zM140.9 214.8h1.4v1.4h-1.4zM141.9 217.9h1.4v1.4h-1.4zM144.4 215.8h1.4v1.4h-1.4zM146.4 215.3h1.4v1.4h-1.4zM144.9 220.4h1.4v1.4h-1.4zM144.9 185.7h1.4v1.4h-1.4zM147.6 191.3h1.4v1.4h-1.4zM147.6 195.8h1.4v1.4h-1.4zM147.6 198.8h1.4v1.4h-1.4zM147.6 203.8h1.4v1.4h-1.4zM152.5 177.7h1.4v1.4h-1.4zM150.9 186.2h1.4v1.4h-1.4zM153.0 187.2h1.4v1.4h-1.4zM150.9 208.3h1.4v1.4h-1.4zM153.3 202.8h1.4v1.4h-1.4zM150.4 215.8h1.4v1.4h-1.4zM152.0 220.4h1.4v1.4h-1.4zM153.5 222.4h1.4v1.4h-1.4zM155.0 215.8h1.4v1.4h-1.4zM157.0 215.8h1.4v1.4h-1.4zM155.5 220.4h1.4v1.4h-1.4zM157.5 222.4h1.4v1.4h-1.4zM157.0 211.3h1.4v1.4h-1.4zM156.5 197.8h1.4v1.4h-1.4zM158.0 194.3h1.4v1.4h-1.4zM161.0 195.8h1.4v1.4h-1.4zM161.0 184.7h1.4v1.4h-1.4zM162.0 177.7h1.4v1.4h-1.4zM164.0 181.2h1.4v1.4h-1.4zM164.7 183.2h1.4v1.4h-1.4zM160.5 215.8h1.4v1.4h-1.4zM162.0 217.4h1.4v1.4h-1.4zM161.0 220.4h1.4v1.4h-1.4zM164.7 199.3h1.4v1.4h-1.4zM164.5 204.3h1.4v1.4h-1.4zM164.5 207.8h1.4v1.4h-1.4zM169.4 180.7h1.4v1.4h-1.4zM167.9 186.2h1.4v1.4h-1.4zM168.4 189.3h1.4v1.4h-1.4zM169.9 191.3h1.4v1.4h-1.4zM170.4 193.3h1.4v1.4h-1.4zM170.4 195.8h1.4v1.4h-1.4zM169.9 198.8h1.4v1.4h-1.4zM171.4 199.8h1.4v1.4h-1.4zM168.4 202.3h1.4v1.4h-1.4zM167.9 204.3h1.4v1.4h-1.4zM167.9 206.3h1.4v1.4h-1.4zM167.9 208.3h1.4v1.4h-1.4zM167.4 211.8h1.4v1.4h-1.4zM168.9 212.8h1.4v1.4h-1.4zM168.4 220.4h1.4v1.4h-1.4zM169.9 222.4h1.4v1.4h-1.4zM171.9 187.2h1.4v1.4h-1.4zM172.4 201.8h1.4v1.4h-1.4zM172.9 211.3h1.4v1.4h-1.4zM172.9 220.9h1.4v1.4h-1.4zM174.9 215.8h1.4v1.4h-1.4zM176.4 179.2h1.4v1.4h-1.4zM176.9 182.7h1.4v1.4h-1.4zM176.4 205.8h1.4v1.4h-1.4zM177.9 207.8h1.4v1.4h-1.4zM178.4 210.3h1.4v1.4h-1.4zM178.4 212.8h1.4v1.4h-1.4zM177.9 215.8h1.4v1.4h-1.4zM179.5 222.4h1.4v1.4h-1.4zM178.9 187.2h1.4v1.4h-1.4zM180.0 198.8h1.4v1.4h-1.4zM180.5 210.3h1.4v1.4h-1.4zM181.0 178.7h1.4v1.4h-1.4zM181.5 186.7h1.4v1.4h-1.4zM181.5 202.3h1.4v1.4h-1.4zM182.0 215.8h1.4v1.4h-1.4zM182.0 219.4h1.4v1.4h-1.4zM184.0 178.2h1.4v1.4h-1.4zM184.0 183.7h1.4v1.4h-1.4zM184.5 187.7h1.4v1.4h-1.4zM184.5 194.8h1.4v1.4h-1.4zM184.0 202.3h1.4v1.4h-1.4zM184.5 215.3h1.4v1.4h-1.4zM186.5 179.2h1.4v1.4h-1.4zM186.5 186.2h1.4v1.4h-1.4zM186.0 187.7h1.4v1.4h-1.4zM187.0 191.3h1.4v1.4h-1.4zM187.0 193.8h1.4v1.4h-1.4zM186.5 202.3h1.4v1.4h-1.4zM187.0 215.8h1.4v1.4h-1.4zM189.0 185.7h1.4v1.4h-1.4zM188.5 190.3h1.4v1.4h-1.4zM188.5 193.3h1.4v1.4h-1.4zM188.0 202.3h1.4v1.4h-1.4zM188.5 214.8h1.4v1.4h-1.4zM189.5 216.3h1.4v1.4h-1.4zM189.0 220.9h1.4v1.4h-1.4z"/>
<rect x="33.5" y="16.5" width="207.1" height="208.2" fill="none" stroke="#6a6a6e" stroke-width="1.2"/>
<path d="M53.40 224.7v2.8M33.5 37.60h-2.6M81.38 224.7v2.8M33.5 65.53h-2.6M109.35 224.7v2.8M33.5 93.45h-2.6M137.32 224.7v2.8M33.5 121.38h-2.6M165.30 224.7v2.8M33.5 149.30h-2.6M193.28 224.7v2.8M33.5 177.22h-2.6M221.25 224.7v2.8M33.5 205.15h-2.6" stroke="#48484c" stroke-width="0.9" fill="none"/>
<text transform="translate(49.54,236.2) scale(0.86,1)" font-size="8.5" font-family="Liberation Sans, Arial, sans-serif" font-weight="bold" fill="#1c1c22" stroke="#1c1c22" stroke-width="0.2">25</text>
<text transform="translate(17.17,40.20) scale(0.86,1)" font-size="8.5" font-family="Liberation Sans, Arial, sans-serif" font-weight="bold" fill="#1c1c22" stroke="#1c1c22" stroke-width="0.2">25</text>
<text transform="translate(77.51,236.2) scale(0.86,1)" font-size="8.5" font-family="Liberation Sans, Arial, sans-serif" font-weight="bold" fill="#1c1c22" stroke="#1c1c22" stroke-width="0.2">50</text>
<text transform="translate(17.17,68.12) scale(0.86,1)" font-size="8.5" font-family="Liberation Sans, Arial, sans-serif" font-weight="bold" fill="#1c1c22" stroke="#1c1c22" stroke-width="0.2">50</text>
<text transform="translate(105.49,236.2) scale(0.86,1)" font-size="8.5" font-family="Liberation Sans, Arial, sans-serif" font-weight="bold" fill="#1c1c22" stroke="#1c1c22" stroke-width="0.2">75</text>
<text transform="translate(17.17,96.05) scale(0.86,1)" font-size="8.5" font-family="Liberation Sans, Arial, sans-serif" font-weight="bold" fill="#1c1c22" stroke="#1c1c22" stroke-width="0.2">75</text>
<text transform="translate(131.74,236.2) scale(0.86,1)" font-size="8.5" font-family="Liberation Sans, Arial, sans-serif" font-weight="bold" fill="#1c1c22" stroke="#1c1c22" stroke-width="0.2">1<tspan dx="-1.3">00</tspan></text>
<text transform="translate(15.57,123.97) scale(0.86,1)" font-size="8.5" font-family="Liberation Sans, Arial, sans-serif" font-weight="bold" fill="#1c1c22" stroke="#1c1c22" stroke-width="0.2">1<tspan dx="-1.3">00</tspan></text>
<text transform="translate(159.71,236.2) scale(0.86,1)" font-size="8.5" font-family="Liberation Sans, Arial, sans-serif" font-weight="bold" fill="#1c1c22" stroke="#1c1c22" stroke-width="0.2">1<tspan dx="-1.3">25</tspan></text>
<text transform="translate(15.57,151.90) scale(0.86,1)" font-size="8.5" font-family="Liberation Sans, Arial, sans-serif" font-weight="bold" fill="#1c1c22" stroke="#1c1c22" stroke-width="0.2">1<tspan dx="-1.3">25</tspan></text>
<text transform="translate(187.69,236.2) scale(0.86,1)" font-size="8.5" font-family="Liberation Sans, Arial, sans-serif" font-weight="bold" fill="#1c1c22" stroke="#1c1c22" stroke-width="0.2">1<tspan dx="-1.3">50</tspan></text>
<text transform="translate(15.57,179.82) scale(0.86,1)" font-size="8.5" font-family="Liberation Sans, Arial, sans-serif" font-weight="bold" fill="#1c1c22" stroke="#1c1c22" stroke-width="0.2">1<tspan dx="-1.3">50</tspan></text>
<text transform="translate(215.66,236.2) scale(0.86,1)" font-size="8.5" font-family="Liberation Sans, Arial, sans-serif" font-weight="bold" fill="#1c1c22" stroke="#1c1c22" stroke-width="0.2">1<tspan dx="-1.3">75</tspan></text>
<text transform="translate(15.57,207.75) scale(0.86,1)" font-size="8.5" font-family="Liberation Sans, Arial, sans-serif" font-weight="bold" fill="#1c1c22" stroke="#1c1c22" stroke-width="0.2">1<tspan dx="-1.3">75</tspan></text>
<text x="135.3" y="12.3" font-size="10" font-family="Liberation Sans, Arial, sans-serif" font-weight="bold" fill="#111114" text-anchor="middle" textLength="112" lengthAdjust="spacingAndGlyphs">Supra adjacency matrix</text>
<text x="414.2" y="13.3" font-size="10" font-family="Liberation Sans, Arial, sans-serif" font-weight="bold" fill="#111114" text-anchor="middle" textLength="196.5" lengthAdjust="spacingAndGlyphs">Visualization of the network snapshots</text>
<text x="135.2" y="247.1" font-size="9.5" font-family="Liberation Sans, Arial, sans-serif" fill="#1c1c22" text-anchor="middle" stroke="#1c1c22" stroke-width="0.4">x</text>
<text transform="translate(8.4,108.6) rotate(-90)" font-size="9.5" font-family="Liberation Sans, Arial, sans-serif" fill="#1c1c22" text-anchor="middle" stroke="#1c1c22" stroke-width="0.4">y</text>
<text x="133.5" y="270.3" font-size="14" font-family="Liberation Serif, Times New Roman, serif" fill="#111" text-anchor="middle">(<tspan font-weight="bold">a</tspan>)</text>
<text x="415.8" y="270.3" font-size="14" font-family="Liberation Serif, Times New Roman, serif" fill="#111" text-anchor="middle">(<tspan font-weight="bold">b</tspan>)</text>
<line x1="348.4" y1="64.6" x2="372.7" y2="100.3" stroke="#fbdc1e" stroke-width="1.0"/>
<line x1="348.4" y1="64.6" x2="376.5" y2="97.7" stroke="#fbdc1e" stroke-width="1.0"/>
<line x1="348.4" y1="64.6" x2="378.1" y2="93.9" stroke="#fbdc1e" stroke-width="1.0"/>
<line x1="348.4" y1="64.6" x2="382.2" y2="97.3" stroke="#fbdc1e" stroke-width="1.0"/>
<line x1="348.4" y1="64.6" x2="386" y2="98.5" stroke="#fbdc1e" stroke-width="1.0"/>
<line x1="348.4" y1="64.6" x2="390.3" y2="95.2" stroke="#fbdc1e" stroke-width="1.0"/>
<line x1="348.4" y1="64.6" x2="393" y2="98" stroke="#fbdc1e" stroke-width="1.0"/>
<line x1="348.4" y1="64.6" x2="396.5" y2="98.5" stroke="#fbdc1e" stroke-width="1.0"/>
<line x1="348.4" y1="64.6" x2="399.7" y2="97.3" stroke="#fbdc1e" stroke-width="1.0"/>
<line x1="348.4" y1="64.6" x2="402.5" y2="99" stroke="#fbdc1e" stroke-width="1.0"/>
<line x1="348.4" y1="64.6" x2="405.2" y2="98.7" stroke="#fbdc1e" stroke-width="1.0"/>
<line x1="304.6" y1="143" x2="380.4" y2="111.1" stroke="#fbdc1e" stroke-width="1.0"/>
<line x1="304.6" y1="143" x2="386.1" y2="111.5" stroke="#fbdc1e" stroke-width="1.0"/>
<line x1="383" y1="151.7" x2="387.8" y2="111.3" stroke="#fbdc1e" stroke-width="1.0"/>
<line x1="540.1" y1="109.6" x2="411" y2="101.5" stroke="#fbdc1e" stroke-width="1.0"/>
<line x1="540.1" y1="109.6" x2="413" y2="104.5" stroke="#fbdc1e" stroke-width="1.0"/>
<line x1="523.6" y1="131.7" x2="411" y2="107.5" stroke="#fbdc1e" stroke-width="1.0"/>
<line x1="426.4" y1="104" x2="413" y2="104" stroke="#fbdc1e" stroke-width="1.0"/>
<path d="M396.7 191.7L402.9 181.9M409.5 185.7L378.3 185.4M386.6 185.9L402.2 184.9M406.6 180.5L372.1 183.9M395.6 184.2L384.7 188.1M388.7 186.9L393.6 182.1M399.4 182.0L388.5 180.5M398.5 180.8L381.0 183.2M383.7 182.4L383.7 182.4M379.2 180.9L399.8 184.6M402.4 179.5L386.1 191.9M409.2 182.7L390.7 185.0M384.5 185.7L388.0 179.3M399.8 184.6L380.4 191.5M404.5 186.3L403.8 188.6M378.1 174.3L378.3 185.4M392.3 186.4L392.5 180.4M395.6 184.2L388.7 186.9M397.4 185.5L413.2 188.6M381.2 184.0L403.8 188.6M397.3 179.4L379.2 180.9M384.4 187.6L402.4 179.5M404.8 190.9L383.7 182.4M396.7 191.7L413.2 188.6M388.7 186.9L391.4 182.4M384.4 187.6L386.3 187.6M407.8 181.4L380.6 184.4M379.5 182.5L390.3 175.6M407.8 187.1L373.4 181.7M381.0 183.2L404.4 181.1M404.8 190.9L389.6 180.7M392.5 180.4L405.2 179.1M387.2 183.3L402.3 185.0M414.1 183.2L378.5 183.4M403.7 185.9L396.7 191.7M403.9 181.7L379.2 180.9M367.4 186.7L389.1 184.5M386.3 187.6L387.2 183.3M399.8 184.6L378.5 183.4M404.8 190.9L384.4 187.6M406.6 180.5L404.8 184.9M375.5 188.3L390.7 185.0M380.4 191.5L381.2 184.0M387.2 183.3L402.1 181.2M388.8 180.8L387.0 182.5M402.4 179.5L400.7 179.8M404.4 181.1L389.6 180.7M384.5 185.7L375.5 188.3M395.4 179.4L411.5 181.7M389.1 184.5L408.0 186.5M393.6 182.1L409.2 182.7M381.2 184.0L373.4 181.7M404.5 186.3L367.4 186.7M404.8 184.9L399.4 182.0M384.5 185.7L392.3 186.4M401.4 187.6L400.7 179.8M387.5 185.9L381.2 183.8M386.3 187.6L399.7 177.7M393.6 179.9L367.4 186.7M388.8 180.8L378.3 185.4M389.6 180.7L390.7 185.0M372.1 183.9L381.6 187.6M397.3 179.4L408.0 186.5M378.5 183.4L399.8 184.6M388.3 184.1L403.7 185.9M406.6 180.5L387.0 182.5M403.7 185.9L404.5 186.3M395.6 185.9L408.0 186.5M378.1 174.3L414.1 183.2M391.2 180.7L399.4 186.4M390.7 185.0L375.5 188.3M372.1 183.9L393.6 179.9M399.7 184.5L381.0 183.2M403.6 188.9L381.6 187.6M378.3 185.4L378.3 185.4M402.9 181.9L396.7 191.7M399.4 182.0L395.4 179.4M413.2 188.6L390.7 185.0M387.5 185.9L389.6 180.7M388.5 185.4L381.4 185.7M405.2 179.1L397.6 181.6M367.4 186.7L388.0 179.3M399.8 181.2L397.3 179.4M378.5 183.4L406.6 180.5M375.5 188.3L387.2 183.3M397.3 179.4L399.8 181.2M391.2 180.7L387.5 185.9M379.1 185.1L409.2 182.7M375.5 188.3L378.3 185.4M388.5 180.5L389.6 180.7M388.1 187.0L411.5 181.7M404.8 184.9L393.5 188.1M395.6 184.2L411.5 181.7M399.4 182.0L407.8 187.1M388.5 180.5L393.5 188.1M402.2 184.9L399.8 181.2M384.7 188.1L380.6 184.4M372.1 183.9L381.4 185.7M402.2 184.9L405.9 185.3M404.4 181.1L404.8 190.9M388.7 186.9L399.7 177.7M393.5 188.1L405.9 185.3M402.9 181.9L403.6 188.9M397.3 179.4L391.4 182.4M381.4 185.7L395.4 179.4M391.4 182.4L381.6 187.6M407.8 181.4L407.8 187.1M407.8 187.1L403.9 181.7M388.7 186.9L386.4 186.8M407.8 187.1L402.4 179.5M426.4 184.4L410 184.4" stroke="#b93a2c" stroke-width="1.0" fill="none"/>
<g fill="#1f72b2"><circle cx="348.4" cy="64.6" r="1.95"/><circle cx="348.4" cy="145.0" r="1.95"/><circle cx="304.6" cy="143.0" r="1.95"/><circle cx="304.6" cy="223.4" r="1.95"/><circle cx="383.0" cy="151.7" r="1.95"/><circle cx="383.0" cy="232.1" r="1.95"/><circle cx="497.5" cy="137.6" r="1.95"/><circle cx="497.5" cy="218.0" r="1.95"/><circle cx="523.6" cy="131.7" r="1.95"/><circle cx="523.6" cy="212.1" r="1.95"/><circle cx="540.1" cy="109.6" r="1.95"/><circle cx="540.1" cy="190.0" r="1.95"/><circle cx="426.4" cy="104.0" r="1.95"/><circle cx="426.4" cy="184.4" r="1.95"/><circle cx="378.1" cy="93.9" r="1.95"/><circle cx="378.1" cy="174.3" r="1.95"/><circle cx="390.3" cy="95.2" r="1.95"/><circle cx="390.3" cy="175.6" r="1.95"/><circle cx="399.7" cy="97.3" r="1.95"/><circle cx="399.7" cy="177.7" r="1.95"/><circle cx="405.2" cy="98.7" r="1.95"/><circle cx="405.2" cy="179.1" r="1.95"/><circle cx="367.4" cy="106.3" r="1.95"/><circle cx="367.4" cy="186.7" r="1.95"/><circle cx="372.1" cy="103.5" r="1.95"/><circle cx="372.1" cy="183.9" r="1.95"/><circle cx="373.4" cy="101.3" r="1.95"/><circle cx="373.4" cy="181.7" r="1.95"/><circle cx="375.5" cy="107.9" r="1.95"/><circle cx="375.5" cy="188.3" r="1.95"/><circle cx="380.4" cy="111.1" r="1.95"/><circle cx="380.4" cy="191.5" r="1.95"/><circle cx="386.1" cy="111.5" r="1.95"/><circle cx="386.1" cy="191.9" r="1.95"/><circle cx="396.7" cy="111.3" r="1.95"/><circle cx="396.7" cy="191.7" r="1.95"/><circle cx="404.8" cy="110.5" r="1.95"/><circle cx="404.8" cy="190.9" r="1.95"/><circle cx="413.2" cy="108.2" r="1.95"/><circle cx="413.2" cy="188.6" r="1.95"/><circle cx="414.1" cy="102.8" r="1.95"/><circle cx="414.1" cy="183.2" r="1.95"/><circle cx="411.5" cy="101.3" r="1.95"/><circle cx="411.5" cy="181.7" r="1.95"/><circle cx="380.6" cy="104.0" r="1.95"/><circle cx="380.6" cy="184.4" r="1.95"/><circle cx="397.3" cy="99.0" r="1.95"/><circle cx="397.3" cy="179.4" r="1.95"/><circle cx="409.5" cy="105.3" r="1.95"/><circle cx="409.5" cy="185.7" r="1.95"/><circle cx="389.1" cy="104.1" r="1.95"/><circle cx="389.1" cy="184.5" r="1.95"/><circle cx="399.4" cy="101.6" r="1.95"/><circle cx="399.4" cy="182.0" r="1.95"/><circle cx="381.0" cy="107.1" r="1.95"/><circle cx="381.0" cy="187.5" r="1.95"/><circle cx="399.7" cy="104.1" r="1.95"/><circle cx="399.7" cy="184.5" r="1.95"/><circle cx="404.8" cy="104.5" r="1.95"/><circle cx="404.8" cy="184.9" r="1.95"/><circle cx="395.6" cy="103.8" r="1.95"/><circle cx="395.6" cy="184.2" r="1.95"/><circle cx="388.5" cy="105.0" r="1.95"/><circle cx="388.5" cy="185.4" r="1.95"/><circle cx="384.4" cy="107.2" r="1.95"/><circle cx="384.4" cy="187.6" r="1.95"/><circle cx="406.6" cy="100.1" r="1.95"/><circle cx="406.6" cy="180.5" r="1.95"/><circle cx="392.5" cy="101.6" r="1.95"/><circle cx="392.5" cy="182.0" r="1.95"/><circle cx="391.2" cy="100.3" r="1.95"/><circle cx="391.2" cy="180.7" r="1.95"/><circle cx="399.8" cy="100.8" r="1.95"/><circle cx="399.8" cy="181.2" r="1.95"/><circle cx="407.8" cy="101.0" r="1.95"/><circle cx="407.8" cy="181.4" r="1.95"/><circle cx="388.3" cy="103.7" r="1.95"/><circle cx="388.3" cy="184.1" r="1.95"/><circle cx="408.0" cy="106.1" r="1.95"/><circle cx="408.0" cy="186.5" r="1.95"/><circle cx="388.0" cy="98.9" r="1.95"/><circle cx="388.0" cy="179.3" r="1.95"/><circle cx="392.3" cy="106.0" r="1.95"/><circle cx="392.3" cy="186.4" r="1.95"/><circle cx="405.9" cy="104.9" r="1.95"/><circle cx="405.9" cy="185.3" r="1.95"/><circle cx="387.0" cy="102.1" r="1.95"/><circle cx="387.0" cy="182.5" r="1.95"/><circle cx="379.2" cy="100.5" r="1.95"/><circle cx="379.2" cy="180.9" r="1.95"/><circle cx="392.5" cy="100.0" r="1.95"/><circle cx="392.5" cy="180.4" r="1.95"/><circle cx="402.1" cy="100.8" r="1.95"/><circle cx="402.1" cy="181.2" r="1.95"/><circle cx="378.3" cy="105.0" r="1.95"/><circle cx="378.3" cy="185.4" r="1.95"/><circle cx="404.4" cy="100.7" r="1.95"/><circle cx="404.4" cy="181.1" r="1.95"/><circle cx="386.4" cy="106.4" r="1.95"/><circle cx="386.4" cy="186.8" r="1.95"/><circle cx="393.5" cy="107.7" r="1.95"/><circle cx="393.5" cy="188.1" r="1.95"/><circle cx="383.7" cy="102.0" r="1.95"/><circle cx="383.7" cy="182.4" r="1.95"/><circle cx="409.2" cy="102.3" r="1.95"/><circle cx="409.2" cy="182.7" r="1.95"/><circle cx="391.4" cy="102.0" r="1.95"/><circle cx="391.4" cy="182.4" r="1.95"/><circle cx="402.4" cy="99.1" r="1.95"/><circle cx="402.4" cy="179.5" r="1.95"/><circle cx="378.5" cy="103.0" r="1.95"/><circle cx="378.5" cy="183.4" r="1.95"/><circle cx="384.7" cy="107.7" r="1.95"/><circle cx="384.7" cy="188.1" r="1.95"/><circle cx="402.2" cy="104.5" r="1.95"/><circle cx="402.2" cy="184.9" r="1.95"/><circle cx="399.4" cy="106.0" r="1.95"/><circle cx="399.4" cy="186.4" r="1.95"/><circle cx="403.6" cy="108.5" r="1.95"/><circle cx="403.6" cy="188.9" r="1.95"/><circle cx="381.4" cy="105.3" r="1.95"/><circle cx="381.4" cy="185.7" r="1.95"/><circle cx="381.2" cy="103.4" r="1.95"/><circle cx="381.2" cy="183.8" r="1.95"/><circle cx="403.8" cy="108.2" r="1.95"/><circle cx="403.8" cy="188.6" r="1.95"/><circle cx="388.8" cy="100.4" r="1.95"/><circle cx="388.8" cy="180.8" r="1.95"/><circle cx="384.7" cy="102.5" r="1.95"/><circle cx="384.7" cy="182.9" r="1.95"/><circle cx="398.5" cy="100.4" r="1.95"/><circle cx="398.5" cy="180.8" r="1.95"/><circle cx="393.6" cy="99.5" r="1.95"/><circle cx="393.6" cy="179.9" r="1.95"/><circle cx="397.6" cy="101.2" r="1.95"/><circle cx="397.6" cy="181.6" r="1.95"/><circle cx="395.6" cy="105.5" r="1.95"/><circle cx="395.6" cy="185.9" r="1.95"/><circle cx="387.5" cy="105.5" r="1.95"/><circle cx="387.5" cy="185.9" r="1.95"/><circle cx="388.5" cy="100.1" r="1.95"/><circle cx="388.5" cy="180.5" r="1.95"/><circle cx="387.2" cy="102.9" r="1.95"/><circle cx="387.2" cy="183.3" r="1.95"/><circle cx="379.1" cy="104.7" r="1.95"/><circle cx="379.1" cy="185.1" r="1.95"/><circle cx="400.7" cy="99.4" r="1.95"/><circle cx="400.7" cy="179.8" r="1.95"/><circle cx="404.5" cy="105.9" r="1.95"/><circle cx="404.5" cy="186.3" r="1.95"/><circle cx="381.2" cy="103.6" r="1.95"/><circle cx="381.2" cy="184.0" r="1.95"/><circle cx="401.4" cy="107.2" r="1.95"/><circle cx="401.4" cy="187.6" r="1.95"/><circle cx="402.9" cy="101.5" r="1.95"/><circle cx="402.9" cy="181.9" r="1.95"/><circle cx="403.9" cy="101.3" r="1.95"/><circle cx="403.9" cy="181.7" r="1.95"/><circle cx="381.0" cy="102.8" r="1.95"/><circle cx="381.0" cy="183.2" r="1.95"/><circle cx="393.6" cy="101.7" r="1.95"/><circle cx="393.6" cy="182.1" r="1.95"/><circle cx="397.4" cy="105.1" r="1.95"/><circle cx="397.4" cy="185.5" r="1.95"/><circle cx="384.5" cy="105.3" r="1.95"/><circle cx="384.5" cy="185.7" r="1.95"/><circle cx="388.7" cy="106.5" r="1.95"/><circle cx="388.7" cy="186.9" r="1.95"/><circle cx="386.3" cy="107.2" r="1.95"/><circle cx="386.3" cy="187.6" r="1.95"/><circle cx="390.7" cy="104.6" r="1.95"/><circle cx="390.7" cy="185.0" r="1.95"/><circle cx="399.8" cy="104.2" r="1.95"/><circle cx="399.8" cy="184.6" r="1.95"/><circle cx="379.5" cy="102.1" r="1.95"/><circle cx="379.5" cy="182.5" r="1.95"/><circle cx="395.4" cy="99.0" r="1.95"/><circle cx="395.4" cy="179.4" r="1.95"/><circle cx="381.6" cy="107.2" r="1.95"/><circle cx="381.6" cy="187.6" r="1.95"/><circle cx="403.7" cy="105.5" r="1.95"/><circle cx="403.7" cy="185.9" r="1.95"/><circle cx="407.8" cy="106.7" r="1.95"/><circle cx="407.8" cy="187.1" r="1.95"/><circle cx="386.6" cy="105.5" r="1.95"/><circle cx="386.6" cy="185.9" r="1.95"/><circle cx="388.1" cy="106.6" r="1.95"/><circle cx="388.1" cy="187.0" r="1.95"/><circle cx="389.6" cy="100.3" r="1.95"/><circle cx="389.6" cy="180.7" r="1.95"/><circle cx="407.0" cy="106.0" r="1.95"/><circle cx="407.0" cy="186.4" r="1.95"/><circle cx="402.3" cy="104.6" r="1.95"/><circle cx="402.3" cy="185.0" r="1.95"/></g>
</svg>
</body></html>
